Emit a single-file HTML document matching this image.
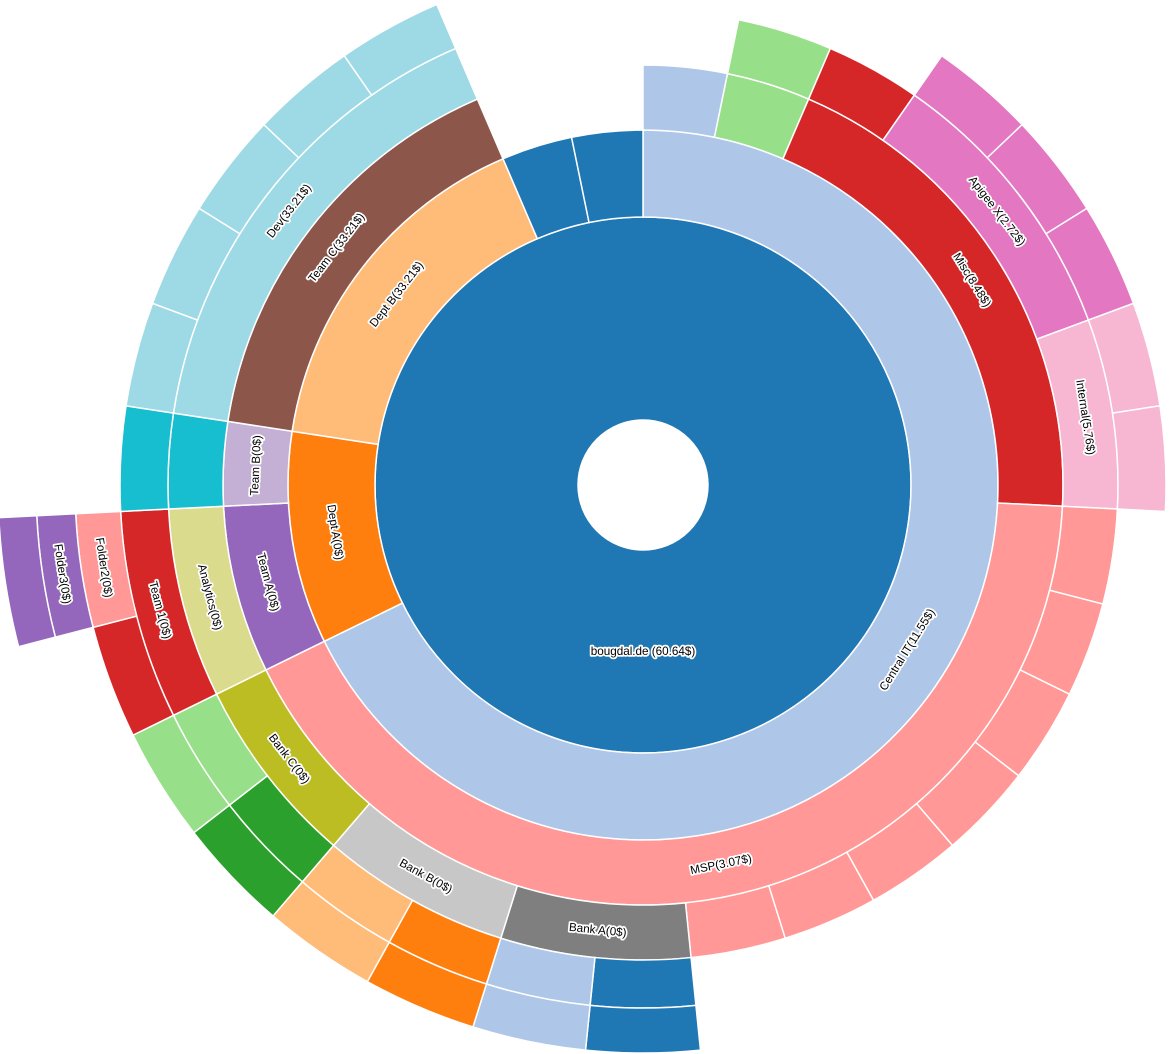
<!DOCTYPE html>
<html><head><meta charset="utf-8"><style>
html,body{margin:0;padding:0;background:#fff;}
svg{display:block;}
text{font-family:"Liberation Sans",sans-serif;font-size:11.7px;fill:#000;stroke:#fff;stroke-width:3.5px;paint-order:stroke;stroke-linejoin:round;}
</style></head><body>
<svg id="chart" width="1170" height="1054" viewBox="0 0 1170 1054" xmlns="http://www.w3.org/2000/svg"></svg>
<script>
const nodeNames = ["bougdal.de","Central IT","cit-a","cit-b","cit-b-1","Misc","misc-red","Apigee X","apigee-1","apigee-2","apigee-3","Internal","internal-1","internal-2","MSP","msp-1","msp-2","msp-3","msp-4","msp-5","msp-6","msp-7","Bank A","bank-a-1","bank-a-1b","bank-a-2","bank-a-2b","Bank B","bank-b-1","bank-b-1b","bank-b-2","bank-b-2b","Bank C","bank-c-1","bank-c-1b","bank-c-2","bank-c-2b","Dept A","Team A","Analytics","Team 1","team1-red","Folder2","Folder3","folder3-child","Team B","team-b-1","team-b-1b","Dept B","Team C","Dev","dev-1","dev-2","dev-3","dev-4","dev-5","root-1","root-2"];
const nodeParents = [-1,0,1,1,3,1,5,5,7,7,7,5,11,11,1,14,14,14,14,14,14,14,14,22,23,22,25,14,27,28,27,30,14,32,33,32,35,0,37,38,39,40,40,42,43,37,45,46,0,48,49,50,50,50,50,50,0,0];
const leafValues = [0,0,1,0,1,0,1,0,1,1,1,0,1,1,0,1,1,1,1,1,1,1,0,0,1,0,1,0,0,1,0,1,0,0,1,0,1,0,0,0,0,1,0,0,1,0,0,1,0,0,0,1,1,1,1,1,1,1];
const nodeLabels = ["bougdal.de (60.64$)","Central IT(11.55$)","","","","Misc(8.48$)","","Apigee X(2.72$)","","","","Internal(5.76$)","","","MSP(3.07$)","","","","","","","","Bank A(0$)","","","","","Bank B(0$)","","","","","Bank C(0$)","","","","","Dept A(0$)","Team A(0$)","Analytics(0$)","Team 1(0$)","","Folder2(0$)","Folder3(0$)","","Team B(0$)","","","Dept B(33.21$)","Team C(33.21$)","Dev(33.21$)","","","","","","",""];
const nodeColors = ["#1f77b4","#aec7e8","#aec7e8","#98df8a","#98df8a","#d62728","#d62728","#e377c2","#e377c2","#e377c2","#e377c2","#f7b6d2","#f7b6d2","#f7b6d2","#ff9896","#ff9896","#ff9896","#ff9896","#ff9896","#ff9896","#ff9896","#ff9896","#7f7f7f","#1f77b4","#1f77b4","#aec7e8","#aec7e8","#c7c7c7","#ff7f0e","#ff7f0e","#ffbb78","#ffbb78","#bcbd22","#2ca02c","#2ca02c","#98df8a","#98df8a","#ff7f0e","#9467bd","#dbdb8d","#d62728","#d62728","#ff9896","#9467bd","#9467bd","#c5b0d5","#17becf","#17becf","#ffbb78","#8c564b","#9edae5","#9edae5","#9edae5","#9edae5","#9edae5","#9edae5","#1f77b4","#1f77b4"];

const cx=643, cy=485;
const ringR=[65,268,355,420,475,523,568,607,645];
const svg=document.getElementById('chart');
const NS="http://www.w3.org/2000/svg";
const N=nodeNames.length;
const children=nodeNames.map(()=>[]);
for(let i=0;i<N;i++){ if(nodeParents[i]>=0) children[nodeParents[i]].push(i); }
const sums=new Array(N).fill(0), depth=new Array(N).fill(0);
function sum(i){ let s=leafValues[i]; for(const c of children[i]) s+=sum(c); sums[i]=s; return s; }
sum(0);
const a0=new Array(N), a1=new Array(N);
function layout(i,start,end,d){ a0[i]=start;a1[i]=end;depth[i]=d; let cur=start; for(const c of children[i]){ const w=(end-start)*sums[c]/sums[i]; layout(c,cur,cur+w,d+1); cur+=w; } }
layout(0,0,360,0);
function pt(r,a){ const t=a*Math.PI/180; return [cx+r*Math.sin(t), cy-r*Math.cos(t)]; }
function arc(r0,r1,s,e){
  if(e-s>=359.999){
    return `M${cx},${cy-r1}A${r1},${r1} 0 1 1 ${cx},${cy+r1}A${r1},${r1} 0 1 1 ${cx},${cy-r1}Z M${cx},${cy-r0}A${r0},${r0} 0 1 0 ${cx},${cy+r0}A${r0},${r0} 0 1 0 ${cx},${cy-r0}Z`;
  }
  const lg=(e-s)>180?1:0;
  const p1=pt(r1,s),p2=pt(r1,e),p3=pt(r0,e),p4=pt(r0,s);
  return `M${p1[0]},${p1[1]}A${r1},${r1} 0 ${lg} 1 ${p2[0]},${p2[1]}L${p3[0]},${p3[1]}A${r0},${r0} 0 ${lg} 0 ${p4[0]},${p4[1]}Z`;
}
for(let i=0;i<N;i++){
  const p=document.createElementNS(NS,'path');
  p.setAttribute('d',arc(ringR[depth[i]],ringR[depth[i]+1],a0[i],a1[i]));
  p.setAttribute('fill',nodeColors[i]);
  p.setAttribute('fill-rule','evenodd');
  p.setAttribute('stroke','#fff');
  p.setAttribute('stroke-width','1.5');
  
  
  svg.appendChild(p);
}
for(let i=0;i<N;i++){
  if(!nodeLabels[i]) continue;
  const mid=(a0[i]+a1[i])/2;
  const r=(ringR[depth[i]]+ringR[depth[i]+1])/2;
  const q=pt(r,mid);
  const rot=(mid<90||mid>270)?mid:mid-180;
  const t=document.createElementNS(NS,'text');
  t.setAttribute('x',0);t.setAttribute('y',0);
  t.setAttribute('text-anchor','middle');
  t.setAttribute('dominant-baseline','central');
  t.setAttribute('transform',`translate(${q[0]},${q[1]}) rotate(${rot})`);
  t.textContent=nodeLabels[i];
  
  
  svg.appendChild(t);
}
</script>
</body></html>
